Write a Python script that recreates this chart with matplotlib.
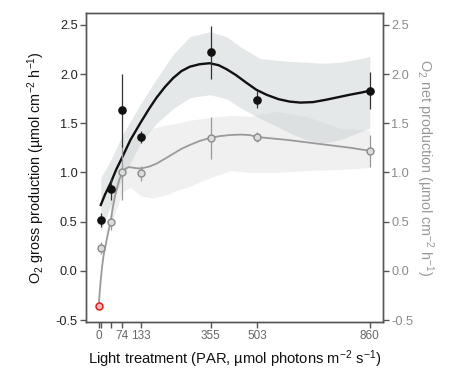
import matplotlib
matplotlib.use("Agg")
import matplotlib.pyplot as plt
import numpy as np

plt.rcParams['font.family'] = ['Liberation Sans', 'DejaVu Sans']
plt.rcParams['mathtext.fontset'] = 'custom'
plt.rcParams['mathtext.rm'] = 'Liberation Sans'
plt.rcParams['mathtext.it'] = 'Liberation Sans:italic'

# ---- data ----
light = [6, 37, 74, 133, 355, 503, 860]
gross_mean = [0.52, 0.83, 1.63, 1.36, 2.22, 1.74, 1.83]
gross_err = [0.07, 0.11, 0.37, 0.065, 0.27, 0.09, 0.19]

net_light = [6, 37, 74, 133, 355, 503, 860]
net_mean = [0.23, 0.50, 1.00, 0.99, 1.35, 1.36, 1.22]
net_err = [0.06, 0.08, 0.28, 0.08, 0.21, 0.055, 0.16]

dark_light = [0]
dark_net = [-0.36]

# fitted curves
gross_fit_x = [6, 20, 37, 55, 75, 100, 133, 160, 183, 210, 236, 262, 289, 320, 352, 380,
               405, 435, 469, 500, 532, 570, 606, 640, 680, 723, 760, 797, 830, 860]
gross_fit_y = [0.67, 0.78, 0.89, 1.03, 1.16, 1.33, 1.51, 1.65, 1.76, 1.87, 1.96, 2.03, 2.075,
               2.10, 2.11, 2.09, 2.05, 1.99, 1.91, 1.84, 1.79, 1.745, 1.72, 1.71, 1.715, 1.74,
               1.765, 1.79, 1.81, 1.83]
net_fit_x = [0, 3, 6, 10, 15, 22, 30, 37, 45, 54, 65, 75, 85, 96, 115, 133, 160, 183, 210,
             236, 262, 289, 320, 352, 385, 416, 450, 479, 503, 600, 700, 800, 860]
net_fit_y = [-0.33, -0.2, -0.09, 0.04, 0.16, 0.27, 0.40, 0.50, 0.66, 0.80, 0.93, 1.00, 1.04,
             1.055, 1.045, 1.04, 1.06, 1.09, 1.14, 1.19, 1.24, 1.28, 1.32, 1.35, 1.37, 1.38,
             1.385, 1.38, 1.36, 1.33, 1.29, 1.25, 1.22]

# confidence ribbons
gross_ci_x = [6, 37, 74, 133, 183, 236, 289, 352, 405, 448, 511, 564, 606, 660, 712, 765, 820, 860]
gross_ci_lo = [0.40, 0.66, 0.94, 1.30, 1.50, 1.65, 1.76, 1.79, 1.75, 1.66, 1.55, 1.47, 1.40,
               1.33, 1.30, 1.33, 1.40, 1.45]
gross_ci_hi = [0.95, 1.12, 1.38, 1.70, 1.95, 2.20, 2.38, 2.43, 2.38, 2.28, 2.16, 2.14, 2.13,
               2.12, 2.11, 2.12, 2.15, 2.18]
net_ci_x = [37, 74, 100, 133, 172, 210, 250, 289, 355, 420, 479, 564, 659, 765, 860]
net_ci_lo = [0.45, 0.80, 0.85, 0.76, 0.74, 0.77, 0.82, 0.86, 0.95, 1.02, 1.00, 1.00, 1.02, 1.03, 1.05]
net_ci_hi = [0.75, 1.20, 1.32, 1.40, 1.45, 1.48, 1.50, 1.53, 1.56, 1.58, 1.57, 1.62, 1.57, 1.45, 1.43]

tick_pos = [0, 6, 37, 74, 133, 355, 503, 860]
tick_lab = ['0', '', '', '74', '133', '355', '503', '860']
yticks = [-0.5, 0.0, 0.5, 1.0, 1.5, 2.0, 2.5]

# ---- figure ----
fig = plt.figure(figsize=(4.74, 3.88), dpi=100)
ax = fig.add_axes([0.1814, 0.170, 0.6266, 0.7964])

ax.fill_between(net_ci_x, net_ci_lo, net_ci_hi, color='#f0f0f0', lw=0, zorder=1)
ax.fill_between(gross_ci_x, gross_ci_lo, gross_ci_hi, color='#ccd2d2', alpha=0.5, lw=0, zorder=2)

ax.plot(net_fit_x, net_fit_y, color='#9a9a9a', lw=1.3, zorder=3)
ax.plot(gross_fit_x, gross_fit_y, color='#111111', lw=1.7, zorder=4)

ax.errorbar(net_light, net_mean, yerr=net_err, fmt='o', ms=5, mfc='#dcdcdc', mec='#8a8a8a',
            mew=1.0, ecolor='#999999', elinewidth=0.9, capsize=0, zorder=5)
ax.errorbar(light, gross_mean, yerr=gross_err, fmt='o', ms=5.2, mfc='#111111', mec='#111111',
            ecolor='#333333', elinewidth=0.9, capsize=0, zorder=6)
ax.plot(dark_light, dark_net, 'o', ms=5, mfc='#f4b8b8', mec='#e02020', mew=1.1, zorder=7)

ax.set_xlim(-41, 902)
ax.set_ylim(-0.52, 2.62)
ax.set_xticks(tick_pos)
ax.set_xticklabels(tick_lab)
ax.set_yticks(yticks)
ax.set_yticklabels([f'{v:.1f}' for v in yticks])

for s in ax.spines.values():
    s.set_color('#555555')
    s.set_linewidth(1.0)

ax.tick_params(axis='x', direction='out', length=4, width=1, color='#555555',
               labelcolor='#666666', labelsize=8.5, pad=2)
ax.tick_params(axis='y', direction='out', length=4, width=1, color='#555555',
               labelcolor='#222222', labelsize=9.2, pad=2)

ax2 = ax.twinx()
ax2.set_ylim(ax.get_ylim())
ax2.set_yticks(yticks)
ax2.set_yticklabels([f'{v:.1f}' for v in yticks])
ax2.tick_params(axis='y', direction='out', length=4, width=1, color='#555555',
                labelcolor='#8a8a8a', labelsize=9.2, pad=2)
for s in ax2.spines.values():
    s.set_color('#555555')
    s.set_linewidth(1.0)

ax.set_xlabel(r'Light treatment (PAR, µmol photons m$^{-2}$ s$^{-1}$)', fontsize=10.6,
              color='#111111', labelpad=4)
ax.set_ylabel(r'O$_2$ gross production (µmol cm$^{-2}$ h$^{-1}$)', fontsize=10.4,
              color='#111111', labelpad=6)
ax2.set_ylabel(r'O$_2$ net production (µmol cm$^{-2}$ h$^{-1}$)', fontsize=10.4,
               color='#999999', rotation=270, labelpad=16)

fig.savefig('out.png', dpi=100)
